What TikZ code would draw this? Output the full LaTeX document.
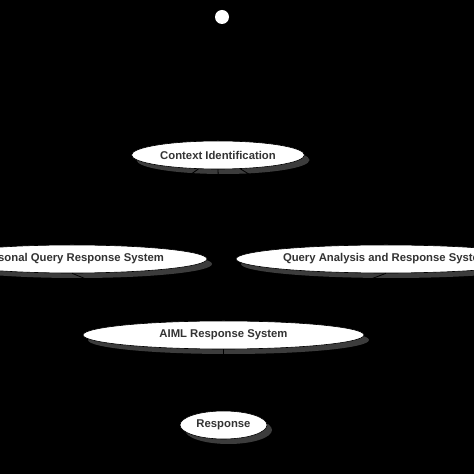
\documentclass[tikz,border=0pt]{standalone}
\usepackage{fontspec}
\setmainfont{Liberation Sans}
\usetikzlibrary{shapes.geometric,shadows,arrows.meta}
\definecolor{txt}{HTML}{333333}
\definecolor{shad}{HTML}{3C3C3C}
\begin{document}
\begin{tikzpicture}[x=1pt,y=1pt,
  usecase/.style={ellipse,draw=black,line width=0.6pt,fill=white,inner sep=0pt,
    minimum height=28pt,text=txt,font=\fontsize{11.3}{13}\selectfont\bfseries,
    drop shadow={shadow xshift=5pt,shadow yshift=-5pt,fill=shad,opacity=1}},
  flow/.style={draw=black,line width=0.8pt,-{Stealth[length=6pt]}}]
\fill[black] (0,0) rectangle (474,474);
\useasboundingbox (0,0) rectangle (474,474);
\node[circle,fill=white,inner sep=0pt,minimum size=14pt] (start) at (222,457) {};
\node[usecase,minimum width=173pt] (ctx) at (218,319) {Context Identification};
\node[usecase,minimum width=270pt] (pers) at (72,215) {Personal Query Response System};
\node[usecase,minimum width=300pt] (qa) at (386,215) {Query Analysis and Response System};
\node[usecase,minimum width=281pt] (aiml) at (223.5,139) {AIML Response System};
\node[usecase,minimum width=87pt] (resp) at (223.5,49) {Response};
\draw[flow] (start) -- (ctx);
\draw[flow] (ctx) -- (pers);
\draw[flow] (ctx) -- (qa);
\draw[flow] (ctx.south) -- (aiml);
\draw[flow] (pers.south) -- (aiml);
\draw[flow] (qa.south) -- (aiml);
\draw[flow] (aiml) -- (resp);
\end{tikzpicture}
\end{document}
